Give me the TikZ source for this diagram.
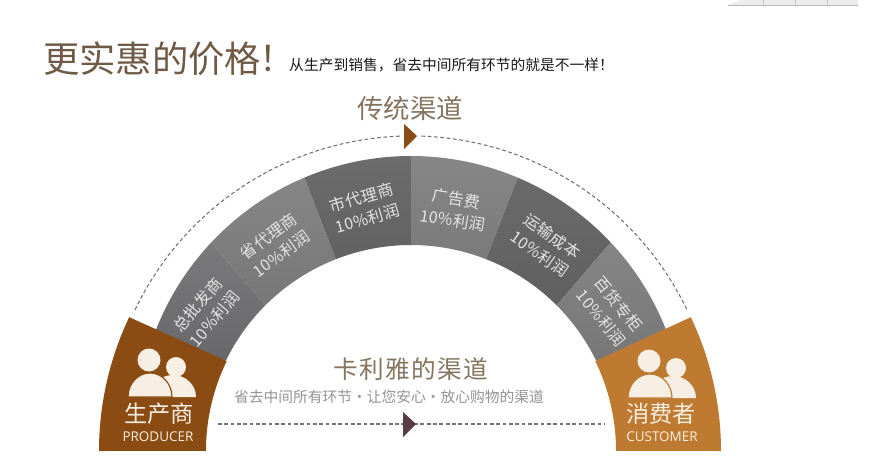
\documentclass[tikz,border=0pt]{standalone}
\usepackage{fontspec}
\setmainfont{Noto Sans CJK SC}
\setsansfont{Open Sans}
\newfontfamily\widecjk[LetterSpace=6]{Noto Sans CJK SC}
\newfontfamily\segcjk[LetterSpace=3]{Noto Sans CJK SC}
\usetikzlibrary{calc}
\definecolor{brownL}{HTML}{8A4C12}
\definecolor{brownR}{HTML}{BE7A30}
\definecolor{cream}{HTML}{F7EFE4}
\definecolor{titlecol}{HTML}{6F5B45}
\definecolor{headcol}{HTML}{85755F}
\definecolor{tipcol}{HTML}{5A3C44}
\tikzset{
	segtext/.style={text=white!90!black, align=center, font=\segcjk\fontsize{13.6}{18.6}\selectfont, inner sep=0pt},
	iconcn/.style={text=cream, font=\fontsize{19.8}{20}\selectfont, inner sep=0pt},
	iconen/.style={text=cream, font=\sffamily\fontsize{11.5}{12}\selectfont, inner sep=0pt},
	dashline/.style={black!55, dash pattern=on 3.2pt off 2.2pt, line width=0.9pt},
}
\begin{document}
\begin{tikzpicture}[x=0.03cm,y=0.03cm]
	\useasboundingbox (0,0) rectangle (872,473);
	\fill[white] (0,0) rectangle (872,473);
	\coordinate (cin) at (411,22);
	\coordinate (cout) at (411,43);
	%la barre en haut
	\fill[gray!15] (728,468) -- (741,473) -- (858,473) -- (858,468) -- cycle;
	\draw[gray!55] (728,468) -- (858,468);
	\foreach \x in {763,795,827} \draw[gray!45] (\x,468) -- (\x,473);
	%titres
	\node[text=titlecol, font=\fontsize{31}{32}\selectfont, inner sep=0pt, anchor=west] (title) at (43,414) {更实惠的价格};
	\node[text=titlecol, font=\fontsize{30}{32}\selectfont, inner sep=0pt] (mark) at (277,415) {！};
	\node[text=black!90, font=\fontsize{12.6}{14}\selectfont, inner sep=0pt, anchor=west] (subtitle) at (289,408) {从生产到销售，省去中间所有环节的就是不一样！};
	\node[text=headcol, font=\fontsize{22.5}{24}\selectfont, inner sep=0pt] (oldway) at (410,365) {传统渠道};
	%les segments gris
	\foreach \ia/\oa/\ib/\ob/\tc/\bc in {154/160/135/136.8/7A7A7C/68686A, 135/136.8/111.4/112.9/868686/777777, 111.4/112.9/90/90/6C6C6C/626262, 90/90/68.6/67.1/878787/7A7A7A, 68.6/67.1/45/43.2/6A6A6A/606060, 45/43.2/26/20/858585/777777}{
		\definecolor{segtop}{HTML}{\tc}
		\definecolor{segbot}{HTML}{\bc}
		\shade[top color=segtop, bottom color=segbot] ($(cin)+(\ia:206)$) -- ($(cout)+(\oa:274)$) arc[start angle=\oa, end angle=\ob, radius=274] -- ($(cin)+(\ib:206)$) arc[start angle=\ib, end angle=\ia, radius=206] -- cycle;
	}
	%le producteur et le consommateur
	\fill[brownL] (99,22) arc[start angle=180, end angle=154.6, radius=312] -- (226.7,111.9) arc[start angle=154, end angle=180, radius=205] -- cycle;
	\fill[brownR] (721,22) arc[start angle=0, end angle=25.4, radius=312] -- (595.3,111.9) arc[start angle=26, end angle=0, radius=205] -- cycle;
	%les personnages
	\foreach \x/\y/\col in {0/0/brownL, 500/-1/brownR}{
		\begin{scope}[shift={(\x,\y)}]
			\fill[cream] (176,106) circle (10);
			\fill[cream] (150,76) arc[start angle=180, end angle=0, x radius=23, y radius=22] -- cycle;
			\fill[cream, draw=\col, line width=1pt] (128,76) arc[start angle=180, end angle=0, x radius=22, y radius=24] -- cycle;
			\fill[cream] (149,113) circle (11.5);
		\end{scope}
	}
	\node[iconcn] (producer) at (159,59) {生产商};
	\node[iconen] (producerEn) at (158,36) {PRODUCER};
	\node[iconcn] (customer) at (661,59) {消费者};
	\node[iconen] (customerEn) at (662,36) {CUSTOMER};
	%textes des segments
	\node[segtext, rotate=50] (wholesale) at (206,161) {总批发商\\10\%利润};
	\node[segtext, rotate=36] (province) at (275,228) {省代理商\\10\%利润};
	\node[segtext, rotate=16] (city) at (364.5,265) {市代理商\\10\%利润};
	\node[segtext, rotate=-9] (advert) at (454.5,263.5) {广告费\\10\%利润};
	\node[segtext, rotate=-35] (transport) at (546,228) {运输成本\\10\%利润};
	\node[segtext, rotate=-51] (store) at (610,162) {百货专柜\\10\%利润};
	%canal du haut
	\coordinate (oldstart) at ($(411,31)+(154.4:306)$);
	\draw[dashline] (oldstart) arc[start angle=154.4, end angle=25.6, radius=306];
	\fill[white] (402,322) rectangle (421,352);
	\fill[brownL] (404,349) -- (417,337) -- (404,324) -- cycle;
	%canal du bas
	\node[text=headcol, font=\widecjk\fontsize{21}{22}\selectfont, inner sep=0pt] (newway) at (411,104) {卡利雅的渠道};
	\node[text=black!42, font=\fontsize{12.6}{14}\selectfont, inner sep=0pt] (newnote) at (389,76) {省去中间所有环节·让您安心·放心购物的渠道};
	\coordinate (newstart) at (218,49);
	\coordinate (newend) at (605,49);
	\draw[dashline] (newstart) -- (newend);
	\fill[tipcol] (403,61) -- (416,49) -- (403,36) -- cycle;
\end{tikzpicture}
\end{document}
